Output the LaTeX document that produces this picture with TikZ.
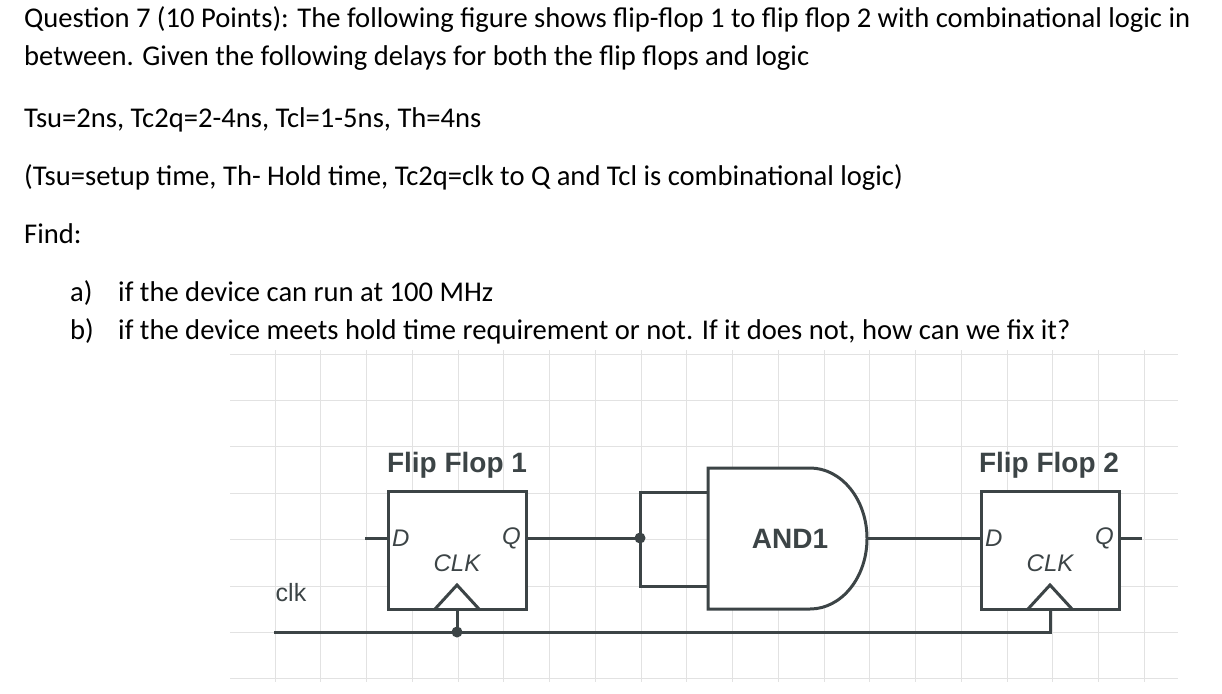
\documentclass[tikz,border=0pt]{standalone}
\usepackage{fontspec}
\setmainfont{Carlito}
\newfontfamily\arialf{Liberation Sans}
\definecolor{wire}{HTML}{3C4446}
\definecolor{gridc}{HTML}{E2E2E2}
\begin{document}
\begin{tikzpicture}[x=1pt,y=-1pt,
  txt/.style={anchor=base west,inner sep=0pt,font=\fontsize{28.6}{32}\selectfont},
  w/.style={draw=wire,line width=3pt},
  lbl/.style={inner sep=0pt,text=wire,font=\arialf\bfseries\fontsize{28}{32}\selectfont},
  pin/.style={inner sep=0pt,text=wire,font=\arialf\itshape\fontsize{24}{28}\selectfont},
  dot/.style={circle,fill=wire,inner sep=0pt,minimum size=11pt}]
\useasboundingbox (0,0) rectangle (1222,693);
% grid
\foreach \i in {0,...,19} \draw[gridc,line width=1pt] ({275+45.75*\i},350) -- ({275+45.75*\i},682);
\foreach \j in {0,...,7} \draw[gridc,line width=1pt] (230,{354+46.4*\j}) -- (1178,{354+46.4*\j});
% text
\node[txt] (t1) at (24,28) {Question 7 (10 Points): The following figure shows flip-flop 1 to flip flop 2 with combinational logic in};
\node[txt] (t2) at (24,66) {between. Given the following delays for both the flip flops and logic};
\node[txt] (t3) at (24,127) {Tsu=2ns, Tc2q=2-4ns, Tcl=1-5ns, Th=4ns};
\node[txt] (t4) at (24,185) {(Tsu=setup time, Th- Hold time, Tc2q=clk to Q and Tcl is combinational logic)};
\node[txt] (t5) at (24,243) {Find:};
\node[txt] (a1) at (70,301) {a)};
\node[txt] (a2) at (118,301) {if the device can run at 100 MHz};
\node[txt] (b1) at (70,339) {b)};
\node[txt] (b2) at (118,339) {if the device meets hold time requirement or not. If it does not, how can we fix it?};
% flip flops
\draw[w,fill=white] (388,491) rectangle (526,609);
\draw[w,fill=white] (981,491) rectangle (1119,609);
\node[lbl] (ff1) at (457,465) {Flip Flop 1};
\node[lbl] (ff2) at (1049,465) {Flip Flop 2};
\node[pin,anchor=west] (d1) at (392,538) {D};
\node[pin,anchor=east] (q1) at (521,538) {Q};
\node[pin] (c1) at (457,563) {CLK};
\node[pin,anchor=west] (d2) at (985,538) {D};
\node[pin,anchor=east] (q2) at (1114,538) {Q};
\node[pin] (c2) at (1050,563) {CLK};
\draw[w,line join=miter] (435,609) -- (457,585) -- (479,609);
\draw[w,line join=miter] (1028,609) -- (1050,585) -- (1072,609);
% AND gate
\draw[w,fill=white] (708,468) -- (810,468) arc[start angle=90,end angle=-90,x radius=57pt,y radius=70.5pt] -- (708,609) -- cycle;
\node[lbl] (and) at (790,539) {AND1};
% wires
\coordinate (j1) at (640,538);
\coordinate (j2) at (457,632);
\draw[w] (365,538) -- (388,538);
\draw[w] (526,538) -- (j1);
\draw[w] (708,492) -- (640,492) -- (640,586) -- (708,586);
\draw[w] (867,538) -- (981,538);
\draw[w] (1119,538) -- (1142,538);
\draw[w] (274,632) -- (1050,632) -- (1050,609);
\draw[w] (457,609) -- (j2);
\node[dot] at (j1) {};
\node[dot] at (j2) {};
\node[inner sep=0pt,text=wire,font=\arialf\fontsize{25}{28}\selectfont] (clk) at (291,593) {clk};
\end{tikzpicture}
\end{document}
